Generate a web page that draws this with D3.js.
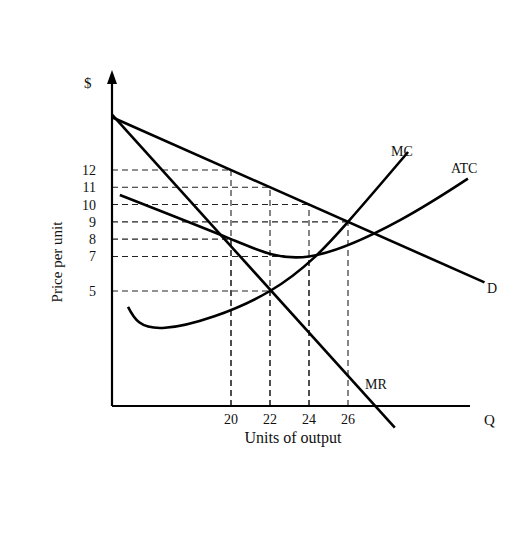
<!DOCTYPE html>
<html><head><meta charset="utf-8">
<script src="https://cdn.jsdelivr.net/npm/d3@7"></script>
<style>body{margin:0;background:#fff}text{font-family:"Liberation Serif",serif;fill:#111}</style>
</head><body><svg id="c" width="521" height="535"></svg>
<script>
const priceTicks=[5,7,8,9,10,11,12];
const qTicks=[20,22,24,26];
const demand=[[13.9,15.05],[33,5.5]];
const mr=[[13.9,15.2],[28.4,-2.9]];
const mc=[[14.72,4.08],[16.62,2.87],[22,5],[26,9],[29.08,13.04]];
const atc=[[14.3,10.55],[20,8],[24,7],[28.67,9.1],[32.15,11.5]];
const guides=[[20,12],[22,11],[24,10],[26,9],[20,8],[24,7],[22,5]];
const svg=d3.select("#c");
const x=d3.scaleLinear().domain([20,26]).range([231,348]);
const y=d3.scaleLinear().domain([5,12]).range([291,170]);
const X0=112,Y0=406;
const g=svg.append("g");
guides.forEach(([q,p])=>{
 g.append("line").attr("x1",X0).attr("x2",x(q)).attr("y1",y(p)).attr("y2",y(p)).attr("stroke","#222").attr("stroke-width",1.1).attr("stroke-dasharray","6,4");
 g.append("line").attr("x1",x(q)).attr("x2",x(q)).attr("y1",Y0).attr("y2",y(p)).attr("stroke","#222").attr("stroke-width",1.1).attr("stroke-dasharray","6,4");
});
const ln=d3.line().x(d=>x(d[0])).y(d=>y(d[1]));
const cv=d3.line().x(d=>x(d[0])).y(d=>y(d[1])).curve(d3.curveNatural);
[[demand,ln],[mr,ln],[mc,cv],[atc,cv]].forEach(([d,f])=>g.append("path").attr("d",f(d)).attr("fill","none").attr("stroke","#000").attr("stroke-width",2.6));
g.append("line").attr("x1",X0).attr("x2",X0).attr("y1",Y0).attr("y2",80).attr("stroke","#000").attr("stroke-width",2.2);
g.append("path").attr("d",`M${X0-5},84L${X0},70L${X0+5},84Z`).attr("fill","#000");
g.append("line").attr("x1",X0).attr("x2",470).attr("y1",Y0).attr("y2",Y0).attr("stroke","#000").attr("stroke-width",2.2);
priceTicks.forEach(p=>g.append("text").attr("x",X0-16).attr("y",y(p)+5).attr("text-anchor","end").attr("font-size",14).text(p));
qTicks.forEach(q=>g.append("text").attr("x",x(q)).attr("y",Y0+18).attr("text-anchor","middle").attr("font-size",14).text(q));
const t=(s,a,b,fs,anc)=>g.append("text").attr("x",a).attr("y",b).attr("font-size",fs||14).attr("text-anchor",anc||"start").text(s);
t("$",84,88,15);t("Q",484,425,15);t("Units of output",293,443,16,"middle");
t("MC",391,156,14);t("ATC",451,173,14);t("D",487,293,14);t("MR",365,389,14);
g.append("text").attr("transform","translate(62,262) rotate(-90)").attr("text-anchor","middle").attr("font-size",15).text("Price per unit");
</script></body></html>
